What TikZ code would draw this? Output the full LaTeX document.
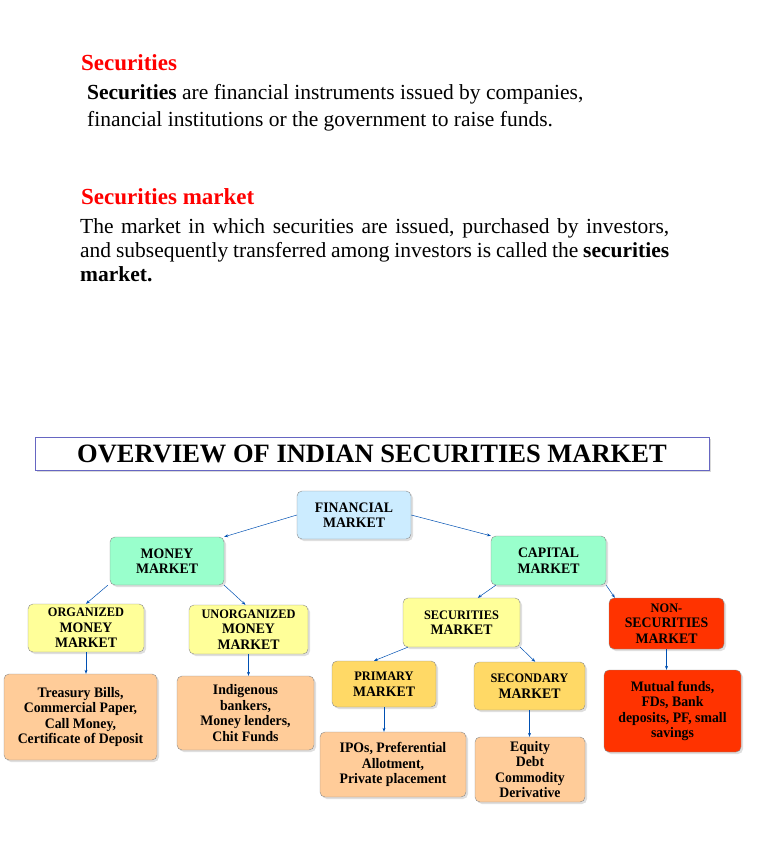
\documentclass[tikz,border=0pt]{standalone}
\usepackage{fontspec}
\setmainfont{Liberation Serif}
\newfontfamily\boxfont[FakeStretch=0.95]{Liberation Serif}
\usetikzlibrary{shadows,arrows.meta}
\begin{document}
\begin{tikzpicture}[x=1pt,y=-1pt,
 bx/.style={draw=black!45,rounded corners=5pt,font=\boxfont\bfseries\fontsize{14.5}{15.5}\selectfont,align=center,inner sep=1pt,drop shadow={opacity=0.25,shadow xshift=2pt,shadow yshift=-2pt}},
 ar/.style={draw=blue!55!cyan!70!black,line width=0.5pt,-{Stealth[length=4pt,width=3pt]}}]
\useasboundingbox (0,0) rectangle (768,866);
\definecolor{cblue}{HTML}{CCECFF}
\definecolor{cgreen}{HTML}{99FFCC}
\definecolor{cyel}{HTML}{FFFF99}
\definecolor{cred}{HTML}{FF3300}
\definecolor{cgold}{HTML}{FFD966}
\definecolor{cpeach}{HTML}{FFCC99}
\node[anchor=west,text=red,font=\bfseries\fontsize{23}{25}\selectfont,inner sep=0] (h1) at (81,63) {Securities};
\node[anchor=north west,font=\fontsize{21.5}{27}\selectfont,inner sep=0,align=left] (p1) at (87,84) {\textbf{Securities} are financial instruments issued by companies,\\financial institutions or the government to raise funds.};
\node[anchor=west,text=red,font=\bfseries\fontsize{23}{25}\selectfont,inner sep=0] (h2) at (81,197) {Securities market};
\node[anchor=north west,font=\fontsize{21.5}{24}\selectfont,inner sep=0,text width=589pt,align=justify] (p2) at (80,218) {The market in which securities are issued, purchased by investors, and subsequently transferred among investors is called the \textbf{securities market.}};
\node[draw=blue!60!black!60,line width=0.8pt,fill=white,minimum width=674pt,minimum height=33pt,font=\bfseries\fontsize{26.5}{28}\selectfont,drop shadow={opacity=0.3,shadow xshift=2pt,shadow yshift=-2pt},inner sep=0] (title) at (372,453.5) {OVERVIEW OF INDIAN SECURITIES MARKET};
\newcommand{\bxn}[7]{\node[bx,fill=#2,minimum width=#5-#3,minimum height=#6-#4] (#1) at ({(#3+#5)/2},{(#4+#6)/2}) {#7};}
\bxn{fin}{cblue}{297}{491}{411}{539}{FINANCIAL\\MARKET}
\bxn{money}{cgreen}{110}{537}{224}{585}{MONEY\\MARKET}
\bxn{cap}{cgreen}{491}{536}{606}{585}{CAPITAL\\MARKET}
\bxn{org}{cyel}{28}{604}{144}{652}{\fontsize{13}{15}\selectfont ORGANIZED\\MONEY\\MARKET}
\bxn{unorg}{cyel}{189}{605}{308}{654}{\fontsize{13}{15}\selectfont UNORGANIZED\\MONEY\\MARKET}
\bxn{sec}{cyel}{403}{598}{520}{647}{\fontsize{13}{16}\selectfont SECURITIES\\MARKET}
\bxn{nonsec}{cred}{609}{598}{724}{649}{\fontsize{13}{15}\selectfont NON-\\SECURITIES\\MARKET}
\bxn{prim}{cgold}{332}{661}{436}{707}{\fontsize{13}{16}\selectfont PRIMARY\\MARKET}
\bxn{secd}{cgold}{474}{662}{585}{710}{\fontsize{13}{16}\selectfont SECONDARY\\MARKET}
\bxn{tre}{cpeach}{4}{674}{157}{760}{\fontsize{14.5}{17.5}\selectfont Treasury Bills,\\Commercial Paper,\\Call Money,\\Certificate of Deposit}
\bxn{ind}{cpeach}{177}{676}{314}{750}{\fontsize{14.5}{17.5}\selectfont Indigenous\\bankers,\\Money lenders,\\Chit Funds}
\bxn{ipo}{cpeach}{320}{732}{466}{797}{\fontsize{14.5}{17.5}\selectfont IPOs, Preferential\\Allotment,\\Private placement}
\bxn{eq}{cpeach}{475}{737}{585}{802}{\fontsize{14.5}{17.5}\selectfont Equity\\Debt\\Commodity\\Derivative}
\bxn{mut}{cred}{604}{670}{741}{752}{\fontsize{14.5}{17.5}\selectfont Mutual funds,\\FDs, Bank\\deposits, PF, small\\savings}
\draw[ar] (fin.west) -- (money.north east);
\draw[ar] (fin.east) -- (cap.north west);
\draw[ar] ([xshift=-2pt]money.south west) -- (org.north);
\draw[ar] (money.south east) -- ([xshift=-3pt]unorg.north);
\draw[ar] ([xshift=5pt]cap.south west) -- ([xshift=75pt]sec.north west);
\draw[ar] (cap.south east) -- ([xshift=6pt]nonsec.north west);
\draw[ar] ([xshift=5pt]sec.south west) -- ([xshift=-10pt]prim.north);
\draw[ar] (sec.south east) -- ([xshift=-50pt]secd.north east);
\draw[ar] (org.south) -- (org.south |- tre.north);
\draw[ar] (unorg.south) -- (unorg.south |- ind.north);
\draw[ar] (prim.south) -- (prim.south |- ipo.north);
\draw[ar] (secd.south) -- (secd.south |- eq.north);
\draw[ar] (nonsec.south) -- (nonsec.south |- mut.north);
\end{tikzpicture}
\end{document}
